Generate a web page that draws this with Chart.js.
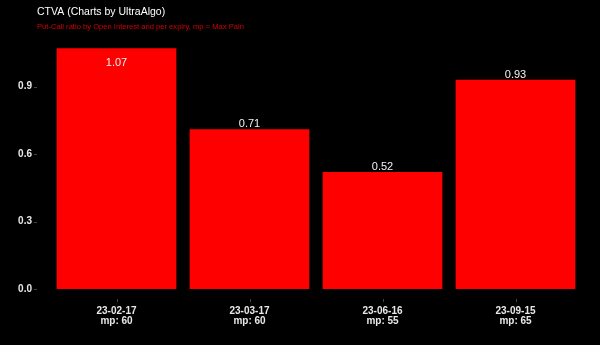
<!DOCTYPE html>
<html>
<head>
<meta charset="utf-8">
<script src="https://cdn.jsdelivr.net/npm/chart.js@4.4.0/dist/chart.umd.min.js"></script>
<style>
  html, body { margin: 0; padding: 0; background: #000; }
  #wrap { width: 600px; height: 345px; }
</style>
</head>
<body>
<div id="wrap"><canvas id="chart" width="600" height="345"></canvas></div>
<script>
// --- Data ---
const expiries = ['23-02-17', '23-03-17', '23-06-16', '23-09-15'];
const maxPain = [60, 60, 55, 65];
const pcRatio = [1.07, 0.71, 0.52, 0.93];
const yTicks = [0, 0.3, 0.6, 0.9];

const titleText = 'CTVA (Charts by UltraAlgo)';
const subtitleText = 'Put-Call ratio by Open Interest and per expiry, mp = Max Pain';

const labels = expiries.map((d, i) => [d, 'mp: ' + maxPain[i]]);

// --- Background, titles, value labels, small tick marks ---
const decorPlugin = {
    id: 'decor',
    beforeDraw(chart) {
        const ctx = chart.ctx;
        ctx.save();
        ctx.fillStyle = '#000';
        ctx.fillRect(0, 0, chart.width, chart.height);
        ctx.restore();
    },
    afterDraw(chart) {
        const ctx = chart.ctx;
        const area = chart.chartArea;
        const xs = chart.scales.x;
        const ys = chart.scales.y;
        ctx.save();

        // titles
        ctx.textAlign = 'left';
        ctx.textBaseline = 'alphabetic';
        ctx.fillStyle = '#ffffff';
        ctx.font = '10.5px "Liberation Sans", Arial, sans-serif';
        ctx.fillText(titleText, 37, 15);
        ctx.fillStyle = '#d40000';
        ctx.font = '7.6px "Liberation Sans", Arial, sans-serif';
        ctx.fillText(subtitleText, 37, 28.5);

        // tick marks (set off from the panel)
        ctx.strokeStyle = '#444';
        ctx.lineWidth = 1;
        yTicks.forEach(v => {
            const y = Math.round(ys.getPixelForValue(v)) + 0.5;
            ctx.beginPath();
            ctx.moveTo(34, y);
            ctx.lineTo(37, y);
            ctx.stroke();
        });
        expiries.forEach((d, i) => {
            const x = Math.round(xs.getPixelForValue(i)) + 0.5;
            ctx.beginPath();
            ctx.moveTo(x, area.bottom + 10);
            ctx.lineTo(x, area.bottom + 13);
            ctx.stroke();
        });

        // value labels
        const meta = chart.getDatasetMeta(0);
        ctx.font = '11px "Liberation Sans", Arial, sans-serif';
        ctx.fillStyle = '#f2f2f2';
        ctx.textAlign = 'center';
        meta.data.forEach((bar, i) => {
            const txt = pcRatio[i].toFixed(2);
            let y = bar.y - 2;
            if (bar.y - 12 < area.top) {
                y = bar.y + 18;
            }
            ctx.fillText(txt, bar.x, y);
        });
        ctx.restore();
    }
};

new Chart(document.getElementById('chart'), {
    type: 'bar',
    data: {
        labels: labels,
        datasets: [{
            data: pcRatio,
            backgroundColor: '#ff0000',
            borderWidth: 0,
            barPercentage: 0.9,
            categoryPercentage: 1.0
        }]
    },
    options: {
        responsive: false,
        animation: false,
        layout: {
            padding: { top: 37, right: 18, bottom: 0, left: 0 }
        },
        plugins: {
            legend: { display: false },
            tooltip: { enabled: false }
        },
        scales: {
            x: {
                grid: { display: false, drawTicks: false },
                border: { display: false },
                ticks: {
                    color: '#e8e8e8',
                    padding: 17,
                    maxRotation: 0,
                    font: { family: '"Liberation Sans", Arial, sans-serif', size: 10, weight: 'bold', lineHeight: 1.0 }
                },
                afterFit(scale) { scale.height = 56; }
            },
            y: {
                min: 0,
                max: 1.12,
                grid: { display: false, drawTicks: false },
                border: { display: false },
                afterBuildTicks(scale) {
                    scale.ticks = yTicks.map(v => ({ value: v }));
                },
                ticks: {
                    color: '#e8e8e8',
                    padding: 18,
                    callback: v => Number(v).toFixed(1),
                    font: { family: '"Liberation Sans", Arial, sans-serif', size: 10, weight: 'bold' }
                },
                afterFit(scale) { scale.width = 50; }
            }
        }
    },
    plugins: [decorPlugin]
});
</script>
</body>
</html>
